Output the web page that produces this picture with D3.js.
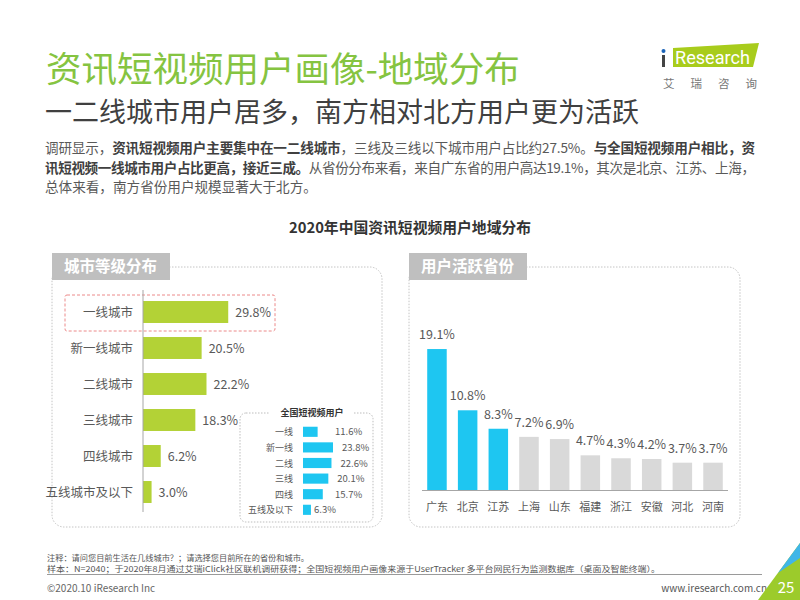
<!DOCTYPE html>
<html><head><meta charset="utf-8">
<script src="https://cdn.jsdelivr.net/npm/d3@7"></script>
<style>
html,body{margin:0;padding:0;background:#fff;}
svg{display:block;font-family:"Noto Sans CJK SC","Noto Sans",sans-serif;}
</style></head>
<body>
<svg id="c" width="800" height="600"></svg>
<script>
const cityTiers = ["一线城市","新一线城市","二线城市","三线城市","四线城市","五线城市及以下"];
const cityValues = [29.8,20.5,22.2,18.3,6.2,3.0];
const nationalTiers = ["一线","新一线","二线","三线","四线","五线及以下"];
const nationalValues = [11.6,23.8,22.6,20.1,15.7,6.3];
const provinces = ["广东","北京","江苏","上海","山东","福建","浙江","安徽","河北","河南"];
const provinceValues = [19.1,10.8,8.3,7.2,6.9,4.7,4.3,4.2,3.7,3.7];
const highlightedProvinces = 3;

const svg = d3.select("#c");
const GREEN = "#85c441", TXT = "#595959";

// ---- Header ----
svg.append("text").attr("x",46).attr("y",82).attr("font-size",35.5).attr("fill",GREEN)
  .text("资讯短视频用户画像-地域分布");
svg.append("text").attr("x",45).attr("y",122).attr("font-size",27).attr("fill","#404040")
  .text("一二线城市用户居多，南方相对北方用户更为活跃");

const para = [
  [["调研显示，",0],["资讯短视频用户主要集中在一二线城市",1],["，三线及三线以下城市用户占比约27.5%。",0],["与全国短视频用户相比，资",1]],
  [["讯短视频一线城市用户占比更高，接近三成。",1],["从省份分布来看，来自广东省的用户高达19.1%，其次是北京、江苏、上海，",0]],
  [["总体来看，南方省份用户规模显著大于北方。",0]]
];
para.forEach((line,i)=>{
  const t = svg.append("text").attr("x",45).attr("y",153+i*19.5).attr("font-size",13.6).attr("fill",TXT);
  if(i<2) t.attr("textLength",710).attr("lengthAdjust","spacing");
  line.forEach(([s,b])=>t.append("tspan").attr("font-weight",b?"bold":"normal").attr("fill",b?"#404040":TXT).text(s));
});

// logo
svg.append("path").attr("d","M673,48 L759,43 L753,67 L673,67 Z").attr("fill","#a8cc1c");
svg.append("text").attr("x",675).attr("y",64).attr("font-size",17.5).attr("fill","#fff")
  .attr("textLength",75).attr("lengthAdjust","spacingAndGlyphs")
  .attr("font-family","Roboto,'Noto Sans',sans-serif").text("Research");
svg.append("rect").attr("x",662).attr("y",55).attr("width",3).attr("height",12).attr("fill","#444");
svg.append("circle").attr("cx",663.5).attr("cy",51).attr("r",2).attr("fill","#1a63b8");
svg.append("text").attr("x",663).attr("y",88).attr("font-size",11.5).attr("fill","#777").attr("letter-spacing","16px").text("艾瑞咨询");

// chart title
svg.append("text").attr("x",410).attr("y",233).attr("text-anchor","middle").attr("font-size",14.8)
  .attr("font-weight","bold").attr("fill","#333").text("2020年中国资讯短视频用户地域分布");

// ---- Panels ----
function panel(x,w,label){
  svg.append("rect").attr("x",x).attr("y",267).attr("width",w).attr("height",260).attr("rx",12)
    .attr("fill","none").attr("stroke","#c4c4c4").attr("stroke-width",1).attr("stroke-dasharray","1.5,1.5");
  svg.append("rect").attr("x",x).attr("y",253).attr("width",118).attr("height",27).attr("fill","#bfbfbf");
  svg.append("text").attr("x",x+12).attr("y",272).attr("font-size",15.5).attr("font-weight","bold").attr("fill","#fff").text(label);
}
panel(52,330,"城市等级分布");
panel(409,331,"用户活跃省份");

// ---- Left: city tiers ----
const xL = d3.scaleLinear().domain([0,30]).range([143,143+85.8]);
const yL = d3.scaleBand().domain(cityTiers).range([294,510]).paddingInner(0.39).paddingOuter(0.195);
svg.append("rect").attr("x",65).attr("y",295).attr("width",210).attr("height",36).attr("rx",2)
  .attr("fill","none").attr("stroke","#ec8a8a").attr("stroke-dasharray","3,2");
svg.selectAll(".lb").data(cityValues).enter().append("rect")
  .attr("x",xL(0)).attr("y",(d,i)=>yL(cityTiers[i])).attr("width",d=>xL(d)-xL(0)).attr("height",yL.bandwidth())
  .attr("fill","#b3d236");
svg.append("line").attr("x1",143).attr("x2",143).attr("y1",290).attr("y2",512).attr("stroke","#a6a6a6");
svg.selectAll(".ll").data(cityTiers).enter().append("text")
  .attr("x",133).attr("y",d=>yL(d)+yL.bandwidth()/2+4.5).attr("text-anchor","end").attr("font-size",12.5).attr("fill",TXT).text(d=>d);
svg.selectAll(".lv").data(cityValues).enter().append("text")
  .attr("x",d=>xL(d)+7).attr("y",(d,i)=>yL(cityTiers[i])+yL.bandwidth()/2+4.5).attr("font-size",12.5).attr("fill",TXT).text(d=>d.toFixed(1)+"%");

// inset
svg.append("rect").attr("x",240).attr("y",413).attr("width",133).attr("height",109).attr("rx",6)
  .attr("fill","#fff").attr("stroke","#bdbdbd").attr("stroke-dasharray","1.5,1.5");
svg.append("rect").attr("x",270).attr("y",406).attr("width",84).attr("height",14).attr("fill","#fff");
svg.append("text").attr("x",312).attr("y",416).attr("text-anchor","middle").attr("font-size",9).attr("font-weight","bold").attr("fill","#333").text("全国短视频用户");
const xI = d3.scaleLinear().domain([0,25]).range([303,303+31.5]);
const yI = d3.scaleBand().domain(nationalTiers).range([424,517.6]).paddingInner(0.35).paddingOuter(0.175);
svg.selectAll(".ib").data(nationalValues).enter().append("rect")
  .attr("x",xI(0)).attr("y",(d,i)=>yI(nationalTiers[i])).attr("width",d=>xI(d)-xI(0)).attr("height",yI.bandwidth()).attr("fill","#1ec6f1");
svg.selectAll(".il").data(nationalTiers).enter().append("text")
  .attr("x",293).attr("y",d=>yI(d)+yI.bandwidth()/2+3.5).attr("text-anchor","end").attr("font-size",9).attr("fill",TXT).text(d=>d);
svg.selectAll(".iv").data(nationalValues).enter().append("text")
  .attr("x",d=>Math.max(xI(d)+9,335)-(d<10?21:0)).attr("y",(d,i)=>yI(nationalTiers[i])+yI.bandwidth()/2+3.5).attr("font-size",9.5).attr("fill",TXT).text(d=>d.toFixed(1)+"%");

// ---- Right: provinces ----
const xR = d3.scaleBand().domain(provinces).range([422,728]).paddingInner(0.364).paddingOuter(0.17);
const yR = d3.scaleLinear().domain([0,20]).range([490,490-147.6]);
svg.selectAll(".rb").data(provinceValues).enter().append("rect")
  .attr("x",(d,i)=>xR(provinces[i])).attr("y",d=>yR(d)).attr("width",xR.bandwidth()).attr("height",d=>yR(0)-yR(d))
  .attr("fill",(d,i)=>i<highlightedProvinces?"#1ec6f1":"#d9d9d9");
svg.append("line").attr("x1",422).attr("x2",728).attr("y1",490.5).attr("y2",490.5).attr("stroke","#a6a6a6");
svg.selectAll(".rv").data(provinceValues).enter().append("text")
  .attr("x",(d,i)=>xR(provinces[i])+xR.bandwidth()/2).attr("y",d=>yR(d)-10).attr("text-anchor","middle")
  .attr("font-size",12.5).attr("fill",TXT).text(d=>d.toFixed(1)+"%");
svg.selectAll(".rl").data(provinces).enter().append("text")
  .attr("x",d=>xR(d)+xR.bandwidth()/2).attr("y",511).attr("text-anchor","middle").attr("font-size",11).attr("fill",TXT).text(d=>d);

// ---- Footer ----
svg.append("text").attr("x",47).attr("y",561).attr("font-size",8.2).attr("fill","#555")
  .text("注释：请问您目前生活在几线城市？；请选择您目前所在的省份和城市。");
svg.append("text").attr("x",47).attr("y",572).attr("font-size",8.2).attr("fill","#555")
  .attr("textLength",613).attr("lengthAdjust","spacingAndGlyphs")
  .text("样本：N=2040；于2020年8月通过艾瑞iClick社区联机调研获得；全国短视频用户画像来源于UserTracker 多平台网民行为监测数据库（桌面及智能终端）。");
svg.append("line").attr("x1",47).attr("x2",762).attr("y1",574.5).attr("y2",574.5).attr("stroke","#9a9a9a").attr("stroke-width",1);
svg.append("text").attr("x",47).attr("y",592).attr("font-size",10).attr("fill","#666").text("©2020.10 iResearch Inc");
svg.append("text").attr("x",767).attr("y",592).attr("text-anchor","end").attr("font-size",10).attr("fill","#555").text("www.iresearch.com.cn");
svg.append("path").attr("d","M758,600 L800,543 L800,600 Z").attr("fill","#9ccb2b");
svg.append("path").attr("d","M778,573 L800,543 L800,558 Z").attr("fill","#3fb6e8");
svg.append("text").attr("x",786).attr("y",593).attr("text-anchor","middle").attr("font-size",15).attr("fill","#fff").text("25");
</script>
</body></html>
